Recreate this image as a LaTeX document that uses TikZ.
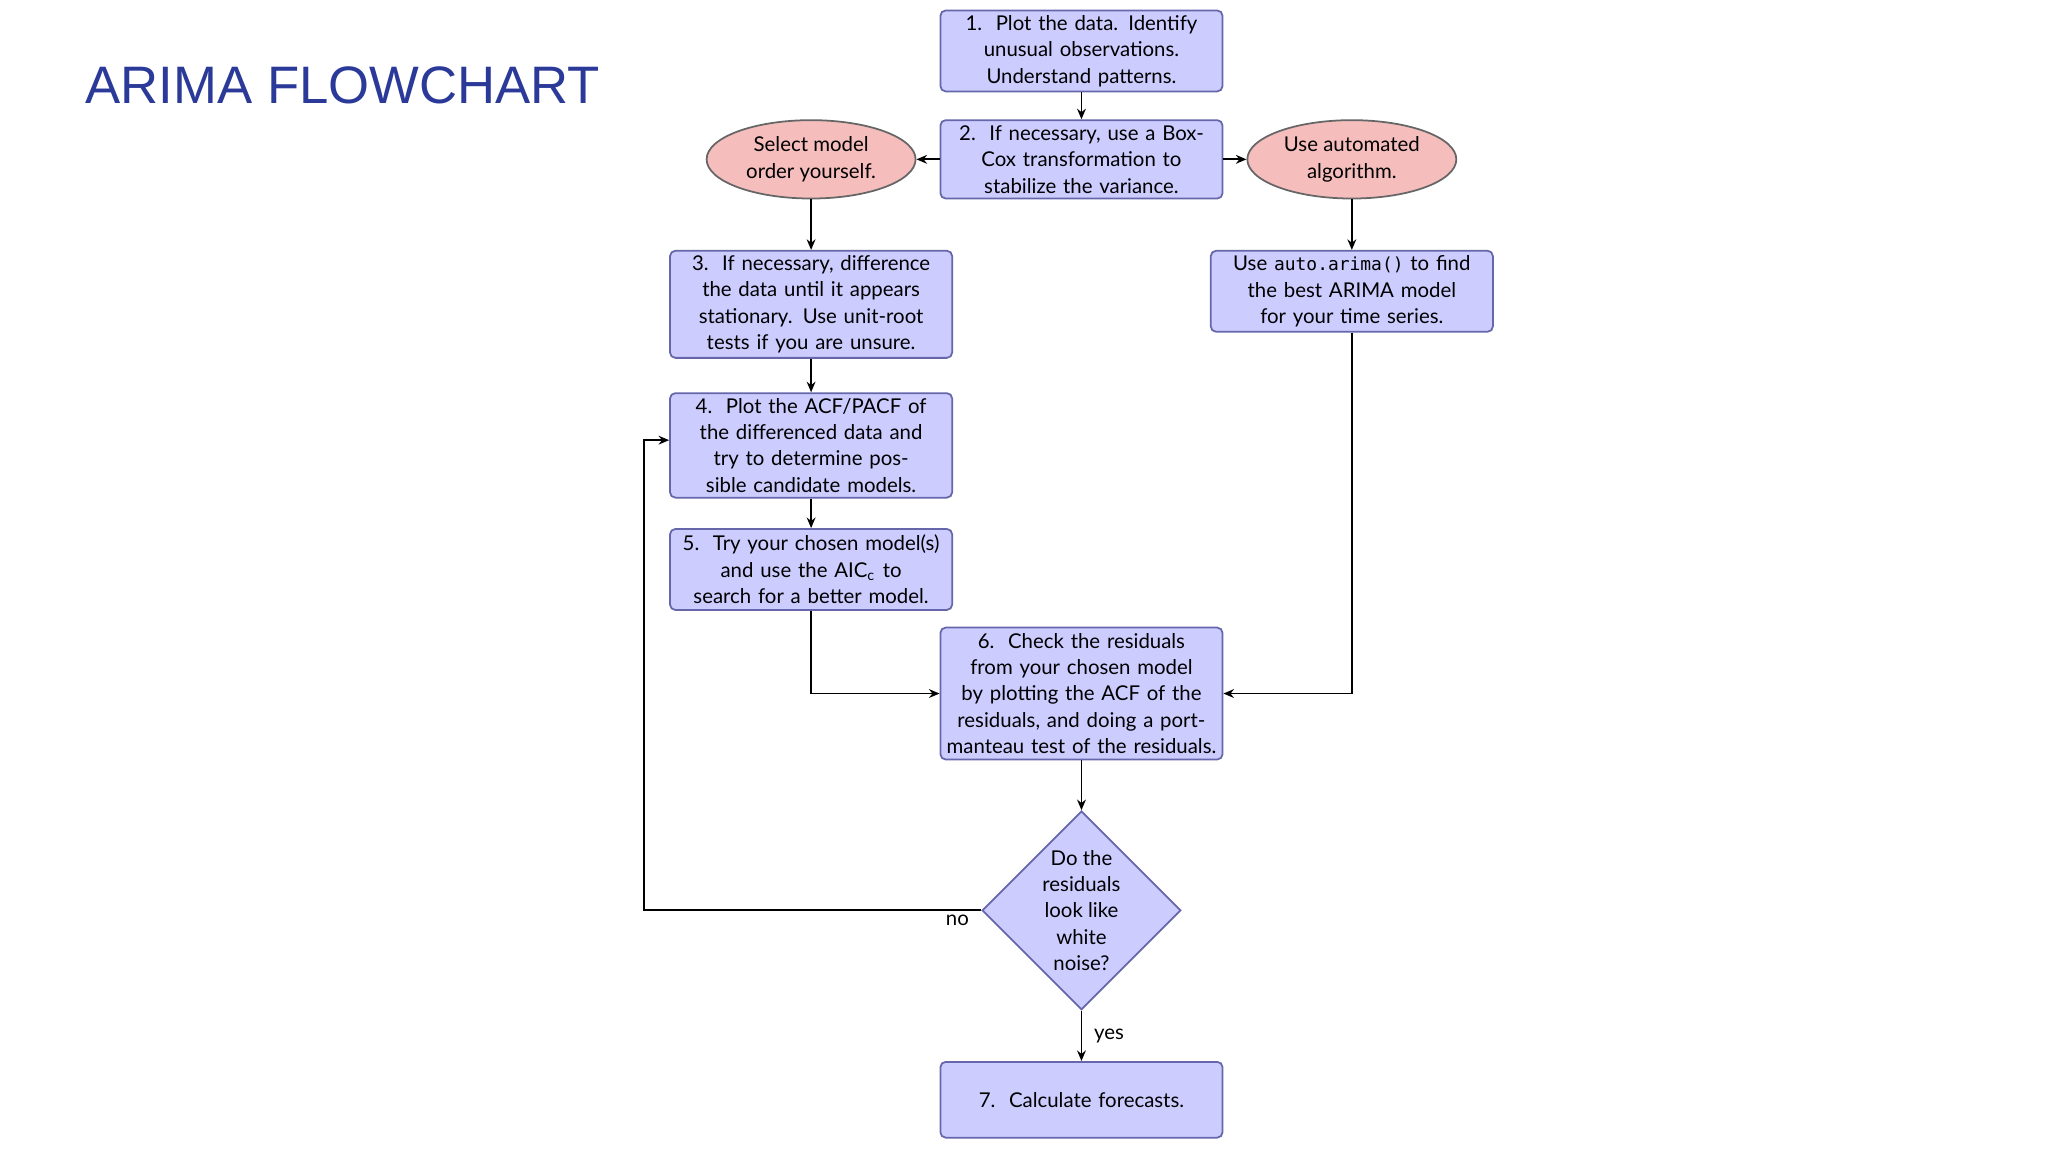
\documentclass[tikz,border=0pt]{standalone}
\usepackage{fontspec}
\setmainfont{Lato}
\setmonofont{DejaVu Sans Mono}[Scale=0.88]
\usetikzlibrary{shapes.geometric,arrows.meta}
\definecolor{boxf}{HTML}{CCCCFF}
\definecolor{boxd}{HTML}{6666AA}
\definecolor{ellf}{HTML}{F6BDBD}
\definecolor{titl}{HTML}{2B3A99}
\begin{document}
\begin{tikzpicture}[x=0.013061cm,y=-0.013061cm,
 box/.style={draw=boxd,fill=boxf,rounded corners=1.5pt,line width=0.5pt,align=center,font=\fontsize{5.8}{7.5}\selectfont,inner sep=0pt,minimum width=216*0.013061cm,text width=214*0.013061cm},
 ell/.style={ellipse,draw=gray!80!black,fill=ellf,line width=0.5pt,align=center,font=\fontsize{5.8}{7.5}\selectfont,minimum width=160*0.013061cm,minimum height=60*0.013061cm,inner sep=0pt},
 dia/.style={diamond,draw=boxd,fill=boxf,line width=0.5pt,align=center,font=\fontsize{5.8}{7.5}\selectfont,minimum width=152*0.013061cm,minimum height=152*0.013061cm,inner sep=0pt},
 arr/.style={-{Stealth[length=3pt,width=2.5pt]},line width=0.5pt},
 lab/.style={font=\fontsize{5.8}{7.5}\selectfont}]
\useasboundingbox (0,0) rectangle (1568,882);
\node[anchor=west,text=titl,font=\fontspec{Liberation Sans}\fontsize{15}{18}\selectfont] (title) at (56,65) {ARIMA FLOWCHART};
\node[box,minimum height=62*0.013061cm] (n1) at (828,39) {1.\ \ Plot the data. Identify\\unusual observations.\\Understand patterns.};
\node[box,minimum height=60*0.013061cm] (n2) at (828,122) {2.\ \ If necessary, use a Box-\\Cox transformation to\\stabilize the variance.};
\node[ell] (el) at (621,122) {Select model\\order yourself.};
\node[ell] (er) at (1035,122) {Use automated\\algorithm.};
\node[box,minimum height=82*0.013061cm] (n3) at (621,233) {3.\ \ If necessary, difference\\the data until it appears\\stationary. Use unit-root\\tests if you are unsure.};
\node[box,minimum height=62*0.013061cm] (na) at (1035,223) {Use \texttt{auto.arima()} to find\\the best ARIMA model\\for your time series.};
\node[box,minimum height=80*0.013061cm] (n4) at (621,341) {4.\ \ Plot the ACF/PACF of\\the differenced data and\\try to determine pos-\\sible candidate models.};
\node[box,minimum height=62*0.013061cm] (n5) at (621,436) {5.\ \ Try your chosen model(s)\\and use the AIC\textsubscript{c} to\\search for a better model.};
\node[box,minimum height=101*0.013061cm] (n6) at (828,531) {6.\ \ Check the residuals\\from your chosen model\\by plotting the ACF of the\\residuals, and doing a port-\\manteau test of the residuals.};
\node[dia] (d) at (828,697) {Do the\\residuals\\look like\\white\\noise?};
\node[box,minimum height=58*0.013061cm] (n7) at (828,842) {7.\ \ Calculate forecasts.};
\coordinate (c1) at (493,697);
\coordinate (c2) at (493,337);
\draw[arr] (n1) -- (n2);
\draw[arr] (n2) -- (el);
\draw[arr] (n2) -- (er);
\draw[arr] (el) -- (n3);
\draw[arr] (er) -- (na);
\draw[arr] (n3) -- (n4);
\draw[arr] (n4) -- (n5);
\draw[arr] (n5.south) |- (n6.west);
\draw[arr] (na.south) |- (n6.east);
\draw[arr] (n6) -- (d);
\draw[arr] (d) -- node[lab,right] (yes) {yes} (n7);
\draw[arr] (d.west) -- (c1) -- (c2) -- (n4.west|-c2);
\node[lab] (no) at (733,705) {no};
\end{tikzpicture}
\end{document}
